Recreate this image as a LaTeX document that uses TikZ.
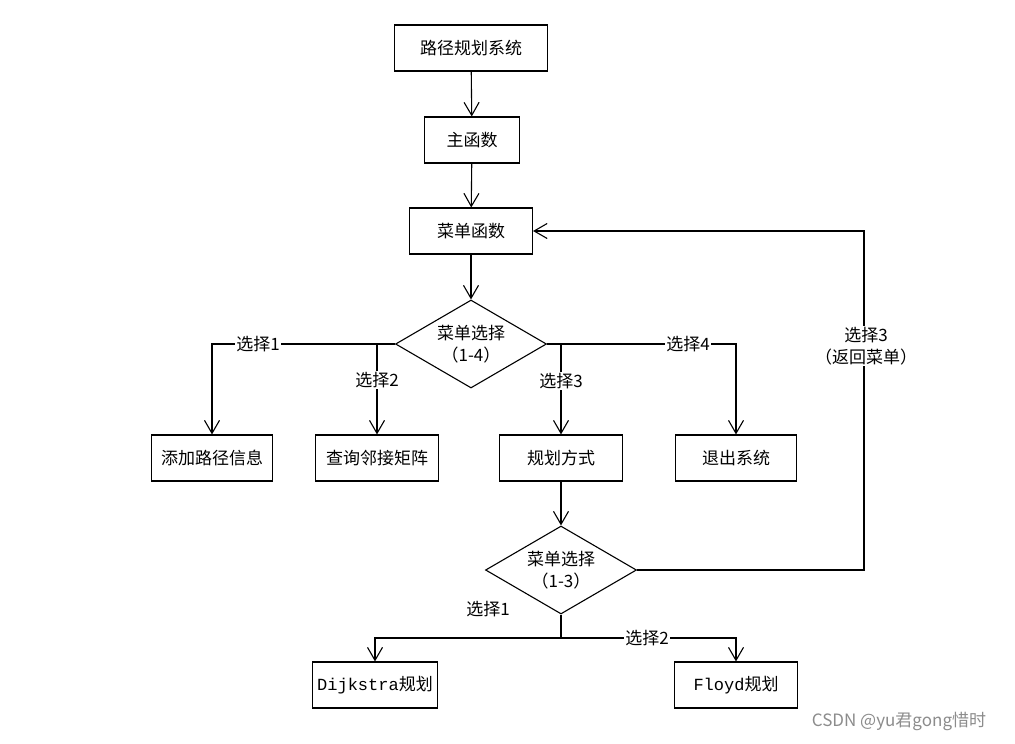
\documentclass[tikz,border=0pt]{standalone}
\usepackage{fontspec}
\setmainfont{Noto Sans CJK SC}
\setmonofont{Liberation Mono}
\usetikzlibrary{shapes.geometric, arrows.meta}
\tikzset{
    box/.style={draw, rectangle, line width=1.1pt, minimum height=46pt, align=center, inner sep=2pt},
    choice/.style={draw, diamond, line width=1.1pt, minimum width=151pt, minimum height=88pt, inner sep=-14pt, align=center},
    arr/.style={line width=1.1pt, -{Straight Barb[length=13pt, width=15pt, line width=1.1pt]}},
    link/.style={line width=1.1pt},
    lbl/.style={fill=white, inner sep=1pt, align=center}
}

\begin{document}
\begin{tikzpicture}[x=1pt, y=-1pt, font=\fontsize{17pt}{22pt}\selectfont]
    \useasboundingbox[fill=white] (0,0) rectangle (1015,744);
    \node[box, minimum width=153pt] (sys) at (471,48) {路径规划系统};
    \node[box, minimum width=95pt] (main) at (472,140) {主函数};
    \node[box, minimum width=123pt] (menu) at (471,231) {菜单函数};
    \node[choice] (sel) at (471,344) {菜单选择\\（1-4）};
    \node[box, minimum width=121pt] (add) at (212,458) {添加路径信息};
    \node[box, minimum width=123pt] (query) at (377,458) {查询邻接矩阵};
    \node[box, minimum width=123pt] (plan) at (561,458) {规划方式};
    \node[box, minimum width=121pt] (quit) at (736,458) {退出系统};
    \node[choice] (way) at (561,570) {菜单选择\\（1-3）};
    \node[box, minimum width=125pt] (dij) at (375,685) {{\ttfamily Dijkstra}规划};
    \node[box, minimum width=123pt] (floyd) at (736,685) {{\ttfamily Floyd}规划};
    \coordinate (split) at (561,638);
    \coordinate (loop) at (864,570);

    \draw[arr] (sys) -- (main);
    \draw[arr] (main) -- (menu);
    \draw[arr] (menu) -- (sel);
    \draw[arr] (sel.west) -| (add.north);
    \draw[arr] (sel.west -| query.north) -- (query.north);
    \draw[arr] (sel.east) -| (quit.north);
    \draw[arr] (sel.east -| plan.north) -- (plan.north);
    \draw[arr] (plan) -- (way);
    \draw[link] (way.south) -- (split);
    \draw[arr] (split) -| (dij.north);
    \draw[arr] (split) -| (floyd.north);
    \draw[arr] (way.east) -- (loop) |- (menu.east);

    \node[lbl] (l1) at (258,344) {选择1};
    \node[lbl] (l2) at (377,380) {选择2};
    \node[lbl] (l3) at (561,381) {选择3};
    \node[lbl] (l4) at (688,344) {选择4};
    \node[lbl] (back) at (866,346) {选择3\\（返回菜单）};
    \node[lbl] (w1) at (488,609) {选择1};
    \node[lbl] (w2) at (647,638) {选择2};
    \node[text=black!45, font=\fontsize{17pt}{20pt}\selectfont] (mark) at (899,721) {CSDN @yu君gong惜时};
\end{tikzpicture}
\end{document}
